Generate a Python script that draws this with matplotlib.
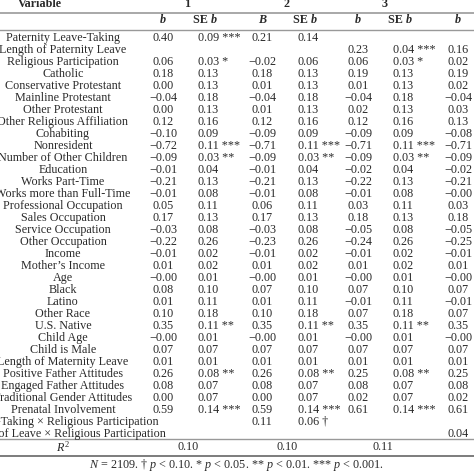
import matplotlib
matplotlib.use("Agg")
import matplotlib.pyplot as plt

plt.rcParams["mathtext.fontset"] = "custom"
plt.rcParams["mathtext.rm"] = "Liberation Serif"
plt.rcParams["mathtext.it"] = "Liberation Serif:italic"
plt.rcParams["mathtext.bf"] = "Liberation Serif:bold"

variables = ["Paternity Leave-Taking", "Length of Paternity Leave", "Religious Participation",
    "Catholic", "Conservative Protestant", "Mainline Protestant", "Other Protestant",
    "Other Religious Affiliation", "Cohabiting", "Nonresident", "Number of Other Children",
    "Education", "Works Part-Time", "Works more than Full-Time", "Professional Occupation",
    "Sales Occupation", "Service Occupation", "Other Occupation", "Income", "Mother\u2019s Income",
    "Age", "Black", "Latino", "Other Race", "U.S. Native", "Child Age", "Child is Male",
    "Length of Maternity Leave", "Positive Father Attitudes", "Engaged Father Attitudes",
    "Traditional Gender Attitudes", "Prenatal Involvement",
    "Leave-Taking \u00d7 Religious Participation", "Length of Leave \u00d7 Religious Participation"]

m1_b = ["0.40", "", "0.06", "0.18", "0.00", "−0.04", "0.00", "0.12", "−0.10", "−0.72", "−0.09",
        "−0.01", "−0.21", "−0.01", "0.05", "0.17", "−0.03", "−0.22", "−0.01", "0.01", "−0.00",
        "0.08", "0.01", "0.10", "0.35", "−0.00", "0.07", "0.01", "0.26", "0.08", "0.00", "0.59", "", ""]
m1_se = ["0.09 ***", "", "0.03 *", "0.13", "0.13", "0.18", "0.13", "0.16", "0.09", "0.11 ***", "0.03 **",
         "0.04", "0.13", "0.08", "0.11", "0.13", "0.08", "0.26", "0.02", "0.02", "0.01", "0.10", "0.11",
         "0.18", "0.11 **", "0.01", "0.07", "0.01", "0.08 **", "0.07", "0.07", "0.14 ***", "", ""]
m2_b = ["0.21", "", "−0.02", "0.18", "0.01", "−0.04", "0.01", "0.12", "−0.09", "−0.71", "−0.09",
        "−0.01", "−0.21", "−0.01", "0.06", "0.17", "−0.03", "−0.23", "−0.01", "0.01", "−0.00",
        "0.07", "0.01", "0.10", "0.35", "−0.00", "0.07", "0.01", "0.26", "0.08", "0.00", "0.59", "0.11", ""]
m2_se = ["0.14", "", "0.06", "0.13", "0.13", "0.18", "0.13", "0.16", "0.09", "0.11 ***", "0.03 **",
         "0.04", "0.13", "0.08", "0.11", "0.13", "0.08", "0.26", "0.02", "0.02", "0.01", "0.10", "0.11",
         "0.18", "0.11 **", "0.01", "0.07", "0.01", "0.08 **", "0.07", "0.07", "0.14 ***", "0.06 \u2020", ""]
m3_b = ["", "0.23", "0.06", "0.19", "0.01", "−0.04", "0.02", "0.12", "−0.09", "−0.71", "−0.09",
        "−0.02", "−0.22", "−0.01", "0.03", "0.18", "−0.05", "−0.24", "−0.01", "0.01", "−0.00",
        "0.07", "−0.01", "0.07", "0.35", "−0.00", "0.07", "0.01", "0.25", "0.08", "0.02", "0.61", "", ""]
m3_se = ["", "0.04 ***", "0.03 *", "0.13", "0.13", "0.18", "0.13", "0.16", "0.09", "0.11 ***", "0.03 **",
         "0.04", "0.13", "0.08", "0.11", "0.13", "0.08", "0.26", "0.02", "0.02", "0.01", "0.10", "0.11",
         "0.18", "0.11 **", "0.01", "0.07", "0.01", "0.08 **", "0.07", "0.07", "0.14 ***", "", ""]
m4_b = ["", "0.16", "0.02", "0.19", "0.02", "−0.04", "0.03", "0.13", "−0.08", "−0.71", "−0.09",
        "−0.02", "−0.21", "−0.00", "0.03", "0.18", "−0.05", "−0.25", "−0.01", "0.01", "−0.00",
        "0.07", "−0.01", "0.07", "0.35", "−0.00", "0.07", "0.01", "0.25", "0.08", "0.02", "0.61", "", "0.04"]
r2_values = ["0.10", "0.10", "0.11"]
model_labels = ["1", "2", "3"]
footnote = "$N$ = 2109. \u2020 $p$ < 0.10. * $p$ < 0.05. ** $p$ < 0.01. *** $p$ < 0.001."

FONT = "Liberation Serif"
C = "#2a2a2a"
fig = plt.figure(figsize=(4.74, 4.74), dpi=100)
ax = fig.add_axes([0, 0, 1, 1])
ax.set_xlim(0, 474); ax.set_ylim(474, 0); ax.axis("off")
fs = 8.7

def t(x, y, s, ha="center", **kw):
    ax.text(x, y, s, ha=ha, va="center", fontsize=fs, family=FONT, color=C, **kw)

# headers
t(40, 4, "Variable", weight="bold")
for x, s in zip([188, 287, 385], model_labels):
    t(x, 4, s, weight="bold")
for x in [163, 262, 358, 458]:
    t(x, 20, "B" if x == 262 else "b", weight="bold", style="italic")
for x in [210, 310, 405]:
    t(x + 1, 20, "SE ", ha="right", weight="bold")
    t(x + 1, 20, "b", ha="left", weight="bold", style="italic")

ax.plot([0, 474], [12.5, 12.5], color="#999", lw=1.2)
ax.plot([0, 474], [29.5, 29.5], color="#999", lw=1)
ax.plot([0, 474], [439, 439], color="#999", lw=1)
ax.plot([0, 474], [456, 456], color="#666", lw=1.2)

y0, dy = 38, 12.0
for i, v in enumerate(variables):
    y = y0 + i * dy
    t(63, y, v)
    t(163, y, m1_b[i]); t(262, y, m2_b[i]); t(358, y, m3_b[i]); t(458, y, m4_b[i])
    t(198, y, m1_se[i], ha="left"); t(298, y, m2_se[i], ha="left"); t(393, y, m3_se[i], ha="left")

t(63, 447, "$R^2$")
for x, s in zip([188, 287, 383], r2_values):
    t(x, 447, s)
t(237, 465, footnote)

fig.savefig("out.png", dpi=100, facecolor="white")
